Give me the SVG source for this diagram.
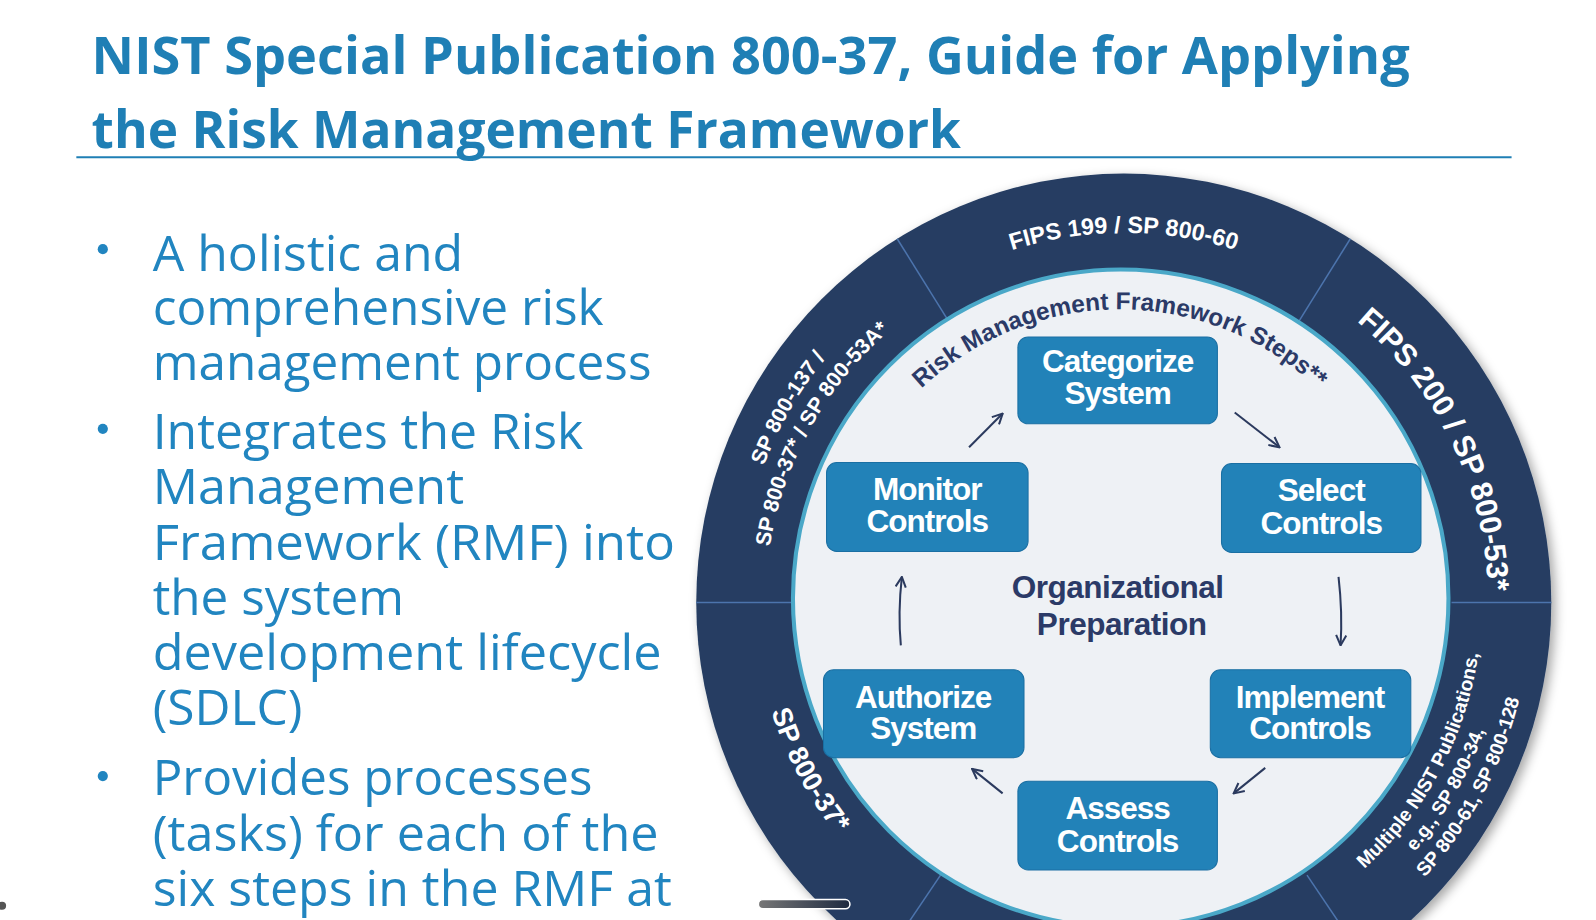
<svg xmlns="http://www.w3.org/2000/svg" width="1596" height="920" viewBox="0 0 1596 920">
<style>
.title{font-family:"Open Sans","Liberation Sans",sans-serif;font-weight:bold;fill:#1f7fb5;font-size:50px}
.bul{font-family:"Open Sans","Liberation Sans",sans-serif;fill:#2185c0;font-size:48px}
.box rect{fill:#2282b8;stroke:#1a6fa3;stroke-width:1}
.box text{font-family:"Liberation Sans",Arial,sans-serif;font-weight:bold;fill:#fff;font-size:31px;text-anchor:middle;letter-spacing:-1px}
.ring{font-family:"Liberation Sans",Arial,sans-serif;fill:#fff;font-weight:bold}
.conn path{fill:none;stroke:#2b3a5e;stroke-width:2;marker-end:url(#ah)}
.div{stroke:#4c74ad;stroke-width:1.5}
</style>
<defs>
<marker id="ah" viewBox="0 0 12 12" refX="11" refY="6" markerWidth="12" markerHeight="12" markerUnits="userSpaceOnUse" orient="auto"><path d="M1,1 L11,6 L1,11" fill="none" stroke="#2b3a5e" stroke-width="2"/></marker>
<filter id="sh" x="-10%" y="-10%" width="120%" height="120%"><feDropShadow dx="4" dy="4" stdDeviation="5" flood-color="#000" flood-opacity="0.35"/></filter>
<linearGradient id="sb" x1="0" x2="1"><stop offset="0" stop-color="#777"/><stop offset="1" stop-color="#1e2a40"/></linearGradient>
<path id="p199" d="M790.5,409 A362,362 0 0 1 1417.5,409"/>
<path id="p200" d="M1129,232.9 A358,358 0 0 1 1400.8,790.2"/>
<path id="pl1" d="M776.6,779 A378,378 0 0 1 1104,212"/>
<path id="pl2" d="M802.3,771.3 A352,352 0 0 1 1097.9,238.1"/>
<path id="pbl" d="M797,398 A362,362 0 0 0 1091.4,951.8"/>
<path id="pr1" d="M1116.3,941.8 A352,352 0 0 0 1402.5,403.5"/>
<path id="pr2" d="M1104,966 A376,376 0 0 0 1429.6,402"/>
<path id="pr3" d="M1118,989.8 A400,400 0 0 0 1443.2,378"/>
<path id="prmf" d="M854.9,444.5 A283,283 0 0 1 1345.1,444.5"/>
</defs>
<rect width="1596" height="920" fill="#fff"/>
<g transform="scale(1.0179,1.0211)">
<g id="title">
<text class="title" x="90" y="72" textLength="1295" lengthAdjust="spacingAndGlyphs">NIST Special Publication 800-37, Guide for Applying</text>
<text class="title" x="90" y="145" textLength="854" lengthAdjust="spacingAndGlyphs">the Risk Management Framework</text>
<line x1="75" y1="154" x2="1485" y2="154" stroke="#1f7fb5" stroke-width="2"/>
</g>
<g id="bullets">
<circle cx="101" cy="244" r="5" fill="#2185c0"/>
<circle cx="101" cy="420" r="5" fill="#2185c0"/>
<circle cx="101" cy="760" r="5" fill="#2185c0"/>
<text class="bul" x="150" y="265" textLength="305" lengthAdjust="spacingAndGlyphs">A holistic and</text>
<text class="bul" x="150" y="318" textLength="443" lengthAdjust="spacingAndGlyphs">comprehensive risk</text>
<text class="bul" x="150" y="372" textLength="490" lengthAdjust="spacingAndGlyphs">management process</text>
<text class="bul" x="150" y="440" textLength="423" lengthAdjust="spacingAndGlyphs">Integrates the Risk</text>
<text class="bul" x="150" y="494" textLength="306" lengthAdjust="spacingAndGlyphs">Management</text>
<text class="bul" x="150" y="548" textLength="513" lengthAdjust="spacingAndGlyphs">Framework (RMF) into</text>
<text class="bul" x="150" y="602" textLength="247" lengthAdjust="spacingAndGlyphs">the system</text>
<text class="bul" x="150" y="656" textLength="500" lengthAdjust="spacingAndGlyphs">development lifecycle</text>
<text class="bul" x="150" y="710" textLength="147" lengthAdjust="spacingAndGlyphs">(SDLC)</text>
<text class="bul" x="150" y="779" textLength="432" lengthAdjust="spacingAndGlyphs">Provides processes</text>
<text class="bul" x="150" y="833" textLength="497" lengthAdjust="spacingAndGlyphs">(tasks) for each of the</text>
<text class="bul" x="150" y="887" textLength="510" lengthAdjust="spacingAndGlyphs">six steps in the RMF at</text>
</g>
<g id="wheel">
<circle cx="1104" cy="590" r="420" fill="#253d62" filter="url(#sh)"/>
<line class="div" x1="1426" y1="590" x2="1524" y2="590"/>
<line class="div" x1="782" y1="590" x2="684" y2="590"/>
<line class="div" x1="1274.6" y1="316.9" x2="1326.6" y2="233.8"/>
<line class="div" x1="933.4" y1="316.9" x2="881.4" y2="233.8"/>
<line class="div" x1="1284" y1="857" x2="1338.9" y2="938.2"/>
<line class="div" x1="924" y1="857" x2="869.1" y2="938.2"/>
<circle cx="1101" cy="586" r="322" fill="#eef1f5" stroke="#4aa8c8" stroke-width="4"/>
<text class="ring" font-size="23"><textPath href="#p199" startOffset="50%" text-anchor="middle">FIPS 199 / SP 800-60</textPath></text>
<text class="ring" font-size="30"><textPath href="#p200" startOffset="50%" text-anchor="middle">FIPS 200 / SP 800-53*</textPath></text>
<text class="ring" font-size="21"><textPath href="#pl1" startOffset="50%" text-anchor="middle">SP 800-137 /</textPath></text>
<text class="ring" font-size="21"><textPath href="#pl2" startOffset="50%" text-anchor="middle">SP 800-37* / SP 800-53A*</textPath></text>
<text class="ring" font-size="27"><textPath href="#pbl" startOffset="50%" text-anchor="middle">SP 800-37*</textPath></text>
<text class="ring" font-size="19"><textPath href="#pr1" startOffset="50%" text-anchor="middle">Multiple NIST Publications,</textPath></text>
<text class="ring" font-size="19" font-weight="normal"><textPath href="#pr2" startOffset="50%" text-anchor="middle">e.g., SP 800-34,</textPath></text>
<text class="ring" font-size="19" font-weight="normal"><textPath href="#pr3" startOffset="50%" text-anchor="middle">SP 800-61, SP 800-128</textPath></text>
<text font-family="Liberation Sans,Arial,sans-serif" font-weight="bold" font-size="24" fill="#2b3a67"><textPath href="#prmf" startOffset="50%" text-anchor="middle">Risk Management Framework Steps**</textPath></text>
<text font-family="Liberation Sans,Arial,sans-serif" font-weight="bold" font-size="31" fill="#2b3a67" text-anchor="middle" letter-spacing="-0.5"><tspan x="1098" y="586">Organizational</tspan><tspan x="1102" y="622">Preparation</tspan></text>
</g>
<g id="n-categorize" class="box"><rect x="1000" y="330" width="196" height="85" rx="10"/><text x="1098" y="364">Categorize</text><text x="1098" y="396">System</text></g>
<g id="n-select" class="box"><rect x="1200" y="454" width="196" height="87" rx="10"/><text x="1298" y="491">Select</text><text x="1298" y="523">Controls</text></g>
<g id="n-implement" class="box"><rect x="1189" y="656" width="197" height="86" rx="10"/><text x="1287" y="693">Implement</text><text x="1287" y="724">Controls</text></g>
<g id="n-assess" class="box"><rect x="1000" y="765" width="196" height="87" rx="10"/><text x="1098" y="802">Assess</text><text x="1098" y="834">Controls</text></g>
<g id="n-authorize" class="box"><rect x="809" y="656" width="197" height="86" rx="10"/><text x="907" y="693">Authorize</text><text x="907" y="724">System</text></g>
<g id="n-monitor" class="box"><rect x="812" y="453" width="198" height="87" rx="10"/><text x="911" y="490">Monitor</text><text x="911" y="521">Controls</text></g>
<g id="connectors" class="conn">
<path d="M952,438 L985,405"/>
<path d="M1213,404 L1257,438"/>
<path d="M1315,565 Q1319,600 1317,632"/>
<path d="M1243,752 L1212,777"/>
<path d="M985,777 L955,753"/>
<path d="M885,632 Q882,600 886,565"/>
</g>
<rect x="745" y="881" width="90" height="9" rx="4.5" fill="url(#sb)" stroke="#fff" stroke-width="1.5"/>
<circle cx="2" cy="887" r="4" fill="#555"/>
</g>
</svg>
